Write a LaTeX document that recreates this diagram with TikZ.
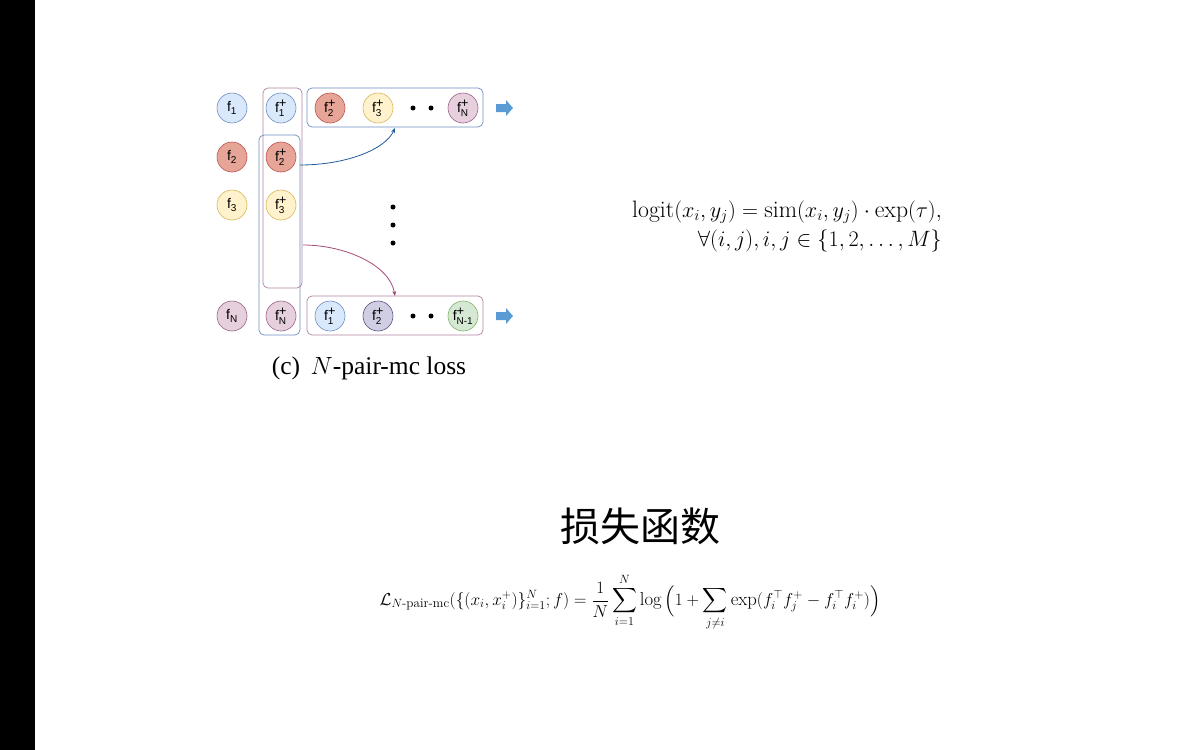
\documentclass[tikz,border=0pt]{standalone}
\usepackage{amsmath}
\usepackage{graphicx}
\usepackage{fontspec}
\newfontfamily\arialf{Liberation Sans}
\newfontfamily\timesf{Liberation Serif}
\newfontfamily\cjk{Noto Sans CJK SC}
\usetikzlibrary{arrows.meta}
\definecolor{bluef}{HTML}{DAE8FC}\definecolor{blued}{HTML}{6C8EBF}
\definecolor{redf}{HTML}{E6A596}\definecolor{redd}{HTML}{B85450}
\definecolor{yelf}{HTML}{FFF2CC}\definecolor{yeld}{HTML}{D6B656}
\definecolor{pinkf}{HTML}{E6D0DE}\definecolor{pinkd}{HTML}{996185}
\definecolor{purf}{HTML}{D0CEE2}\definecolor{purd}{HTML}{56517E}
\definecolor{grnf}{HTML}{D5E8D4}\definecolor{grnd}{HTML}{82B366}
\definecolor{arrowblue}{HTML}{5B9BD5}
\definecolor{linkblue}{HTML}{1F5C99}
\definecolor{linkpink}{HTML}{A3497A}
\tikzset{
  ball/.style={circle,minimum size=30pt,inner sep=0pt,line width=0.6pt,font=\arialf\fontsize{14}{14}\selectfont},
  bblue/.style={ball,fill=bluef,draw=blued},
  bred/.style={ball,fill=redf,draw=redd},
  byel/.style={ball,fill=yelf,draw=yeld},
  bpink/.style={ball,fill=pinkf,draw=pinkd},
  bpur/.style={ball,fill=purf,draw=purd},
  bgrn/.style={ball,fill=grnf,draw=grnd},
  grp/.style={rounded corners=5pt,line width=0.7pt},
  dotn/.style={circle,fill=black,inner sep=0pt,minimum size=5pt},
  fatarrow/.style={fill=arrowblue,draw=none},
}
\newcommand{\fl}[1]{f$_{\text{\arialf\fontsize{10}{10}\selectfont #1}}$}
\newcommand{\fp}[1]{f$^{\text{\arialf\fontsize{13}{13}\selectfont +}}_{\text{\arialf\fontsize{10}{10}\selectfont #1}}$}
\newcommand{\fatarrowat}[2]{\fill[fatarrow] (#1-8,#2-4) -- (#1+2,#2-4) -- (#1+2,#2-8) -- (#1+9,#2) -- (#1+2,#2+8) -- (#1+2,#2+4) -- (#1-8,#2+4) -- cycle;}
\begin{document}
\begin{tikzpicture}[x=1pt,y=-1pt]
\useasboundingbox (0,0) rectangle (1200,750);
\fill[black] (0,0) rectangle (35,750);
% groups
\draw[grp,draw=pinkd!80] (263,88) rectangle (302,288);
\draw[grp,draw=blued] (259,135) rectangle (300,335);
\draw[grp,draw=blued] (307,88) rectangle (483,127);
\draw[grp,draw=pinkd!80] (307,296) rectangle (483,335);
% column 1
\node[bblue] (a1) at (232,108) {\fl{1}};
\node[bred] (a2) at (232,157) {\fl{2}};
\node[byel] (a3) at (232,205) {\fl{3}};
\node[bpink] (aN) at (232,316) {\fl{N}};
% column 2
\node[bblue] (b1) at (281,108) {\fp{1}};
\node[bred] (b2) at (281,157) {\fp{2}};
\node[byel] (b3) at (281,205) {\fp{3}};
\node[bpink] (bN) at (281,316) {\fp{N}};
% top row
\node[bred] (t2) at (330,108) {\fp{2}};
\node[byel] (t3) at (378,108) {\fp{3}};
\node[dotn] (td1) at (413,108) {};
\node[dotn] (td2) at (431,108) {};
\node[bpink] (tN) at (463,108) {\fp{N}};
\fatarrowat{504}{108}
% bottom row
\node[bblue] (u1) at (330,316) {\fp{1}};
\node[bpur] (u2) at (378,316) {\fp{2}};
\node[dotn] (ud1) at (413,316) {};
\node[dotn] (ud2) at (431,316) {};
\node[bgrn] (uN) at (463,316) {\fp{N-1}};
\fatarrowat{504}{316}
% vertical dots
\node[dotn] (v1) at (393,207) {};
\node[dotn] (v2) at (393,225) {};
\node[dotn] (v3) at (393,243) {};
% connectors
\coordinate (s1) at (300,165);
\coordinate (e1) at (395,128);
\coordinate (s2) at (303,245);
\coordinate (e2) at (395,296);
\draw[linkblue,line width=0.8pt,-{Stealth[length=5pt,width=4pt]}] (s1) .. controls (345,165) and (385,150) .. (e1);
\draw[linkpink,line width=0.8pt,-{Stealth[length=5pt,width=4pt]}] (s2) .. controls (345,245) and (390,265) .. (e2);
% caption
\node[font=\timesf\fontsize{25.5}{25.5}\selectfont] (cap) at (369,368) {(c)\, $N$-pair-mc loss};
% logit formula
\node[font=\fontsize{22.2}{28}\selectfont,inner sep=0pt] (lg) at (787,226) {\scalebox{1.07}{\begin{tabular}{@{}r@{}}$\displaystyle \mathrm{logit}(x_i,y_j) = \mathrm{sim}(x_i,y_j)\cdot\exp(\tau),$\\ $\displaystyle \forall(i,j), i,j\in\{1,2,\ldots,M\}$\end{tabular}}};
% title
\node[font=\cjk\fontsize{40}{40}\selectfont] (ttl) at (640,526) {损失函数};
% loss formula
\node[font=\fontsize{18.7}{22}\selectfont] (lf) at (630,602) {$\displaystyle \mathcal{L}_{N\text{-pair-mc}}(\{(x_i,x_i^+)\}_{i=1}^N;f)=\frac{1}{N}\sum_{i=1}^{N}\log\Big(1+\sum_{j\neq i}\exp(f_i^\top f_j^+ - f_i^\top f_i^+)\Big)$};
\end{tikzpicture}
\end{document}
